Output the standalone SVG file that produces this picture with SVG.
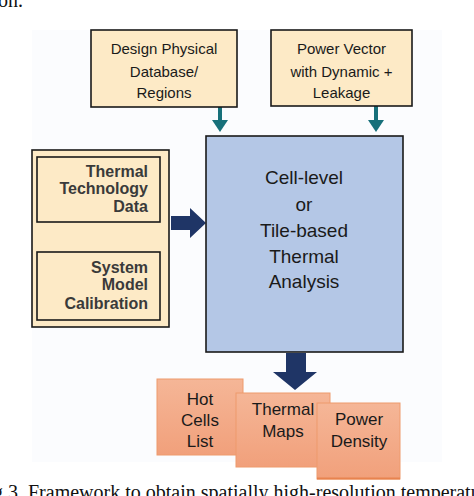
<svg xmlns="http://www.w3.org/2000/svg" width="474" height="496" viewBox="0 0 474 496">
<defs>
<style>
.box{stroke:#1a1a1a;stroke-width:1.6}
.cream{fill:#fdeac6}
.t{font-family:"Liberation Sans",Arial,sans-serif;fill:#1a1a1a;text-anchor:middle}
.tb{font-family:"Liberation Sans",Arial,sans-serif;font-weight:bold;fill:#3a3a3a;text-anchor:end;font-size:16px}
.cap{font-family:"Liberation Serif","Times New Roman",serif;fill:#111;font-size:20px}
.teal{fill:#17707a}
.navy{fill:#1f3566}
.orange{fill:url(#og);stroke:#ee9a6c;stroke-width:1}
</style>
<linearGradient id="og" x1="0" y1="0" x2="0" y2="1">
<stop offset="0" stop-color="#f5b697"/>
<stop offset="1" stop-color="#f1a07b"/>
</linearGradient>
</defs>
<rect x="32" y="30" width="410" height="432" fill="#fbfcfe"/>
<text class="cap" x="-2" y="7">on.</text>
<text class="cap" x="-7" y="499">g 3. Framework to obtain spatially high-resolution temperatu</text>

<g id="connectors">
<rect class="teal" x="218" y="107" width="4" height="15"/>
<polygon class="teal" points="212,120 228,120 220,132"/>
<rect class="teal" x="374" y="106" width="4" height="16"/>
<polygon class="teal" points="368,120 384,120 376,132"/>
<polygon class="navy" points="171,216 190,216 190,208 206,223 190,238 190,230 171,230"/>
<polygon class="navy" points="286,353 306,353 306,372 317,372 295,390 273,372 286,372"/>
</g>

<g id="design">
<rect class="box cream" x="91" y="30" width="146" height="77"/>
<text class="t" font-size="15" x="164" y="54">Design Physical</text>
<text class="t" font-size="15" x="164" y="77">Database/</text>
<text class="t" font-size="15" x="164" y="98">Regions</text>
</g>

<g id="power">
<rect class="box cream" x="271" y="30" width="141" height="76"/>
<text class="t" font-size="15" x="341.5" y="54">Power Vector</text>
<text class="t" font-size="15" x="341.5" y="77">with Dynamic +</text>
<text class="t" font-size="15" x="341.5" y="98">Leakage</text>
</g>

<g id="inputs">
<rect class="box cream" x="32" y="150" width="137" height="177"/>
<g id="thermaltech">
<rect class="box cream" x="37" y="157" width="123" height="65"/>
<text class="tb" x="148" y="177">Thermal</text>
<text class="tb" x="148" y="194">Technology</text>
<text class="tb" x="148" y="212">Data</text>
</g>
<g id="calibration">
<rect class="box cream" x="37" y="252" width="123" height="68"/>
<text class="tb" x="148" y="273">System</text>
<text class="tb" x="148" y="290">Model</text>
<text class="tb" x="148" y="309">Calibration</text>
</g>
</g>

<g id="analysis">
<rect class="box" fill="#b4c7e6" x="206" y="136" width="197" height="216"/>
<text class="t" font-size="19" x="304" y="184">Cell-level</text>
<text class="t" font-size="19" x="304" y="211">or</text>
<text class="t" font-size="19" x="304" y="237">Tile-based</text>
<text class="t" font-size="19" x="304" y="263">Thermal</text>
<text class="t" font-size="19" x="304" y="288">Analysis</text>
</g>

<g id="hotcells">
<rect class="orange" x="157" y="379" width="86" height="76"/>
<text class="t" font-size="17" x="200" y="405">Hot</text>
<text class="t" font-size="17" x="200" y="426">Cells</text>
<text class="t" font-size="17" x="200" y="447">List</text>
</g>

<g id="thermalmaps">
<rect class="orange" x="236" y="393" width="94" height="74"/>
<text class="t" font-size="17" x="283" y="415">Thermal</text>
<text class="t" font-size="17" x="283" y="437">Maps</text>
</g>

<g id="powerdensity">
<rect class="orange" x="317" y="403" width="83" height="76"/>
<line x1="317" y1="478.5" x2="400" y2="478.5" stroke="#e8834f" stroke-width="2"/>
<text class="t" font-size="17" x="359" y="425">Power</text>
<text class="t" font-size="17" x="359" y="447">Density</text>
</g>
</svg>
